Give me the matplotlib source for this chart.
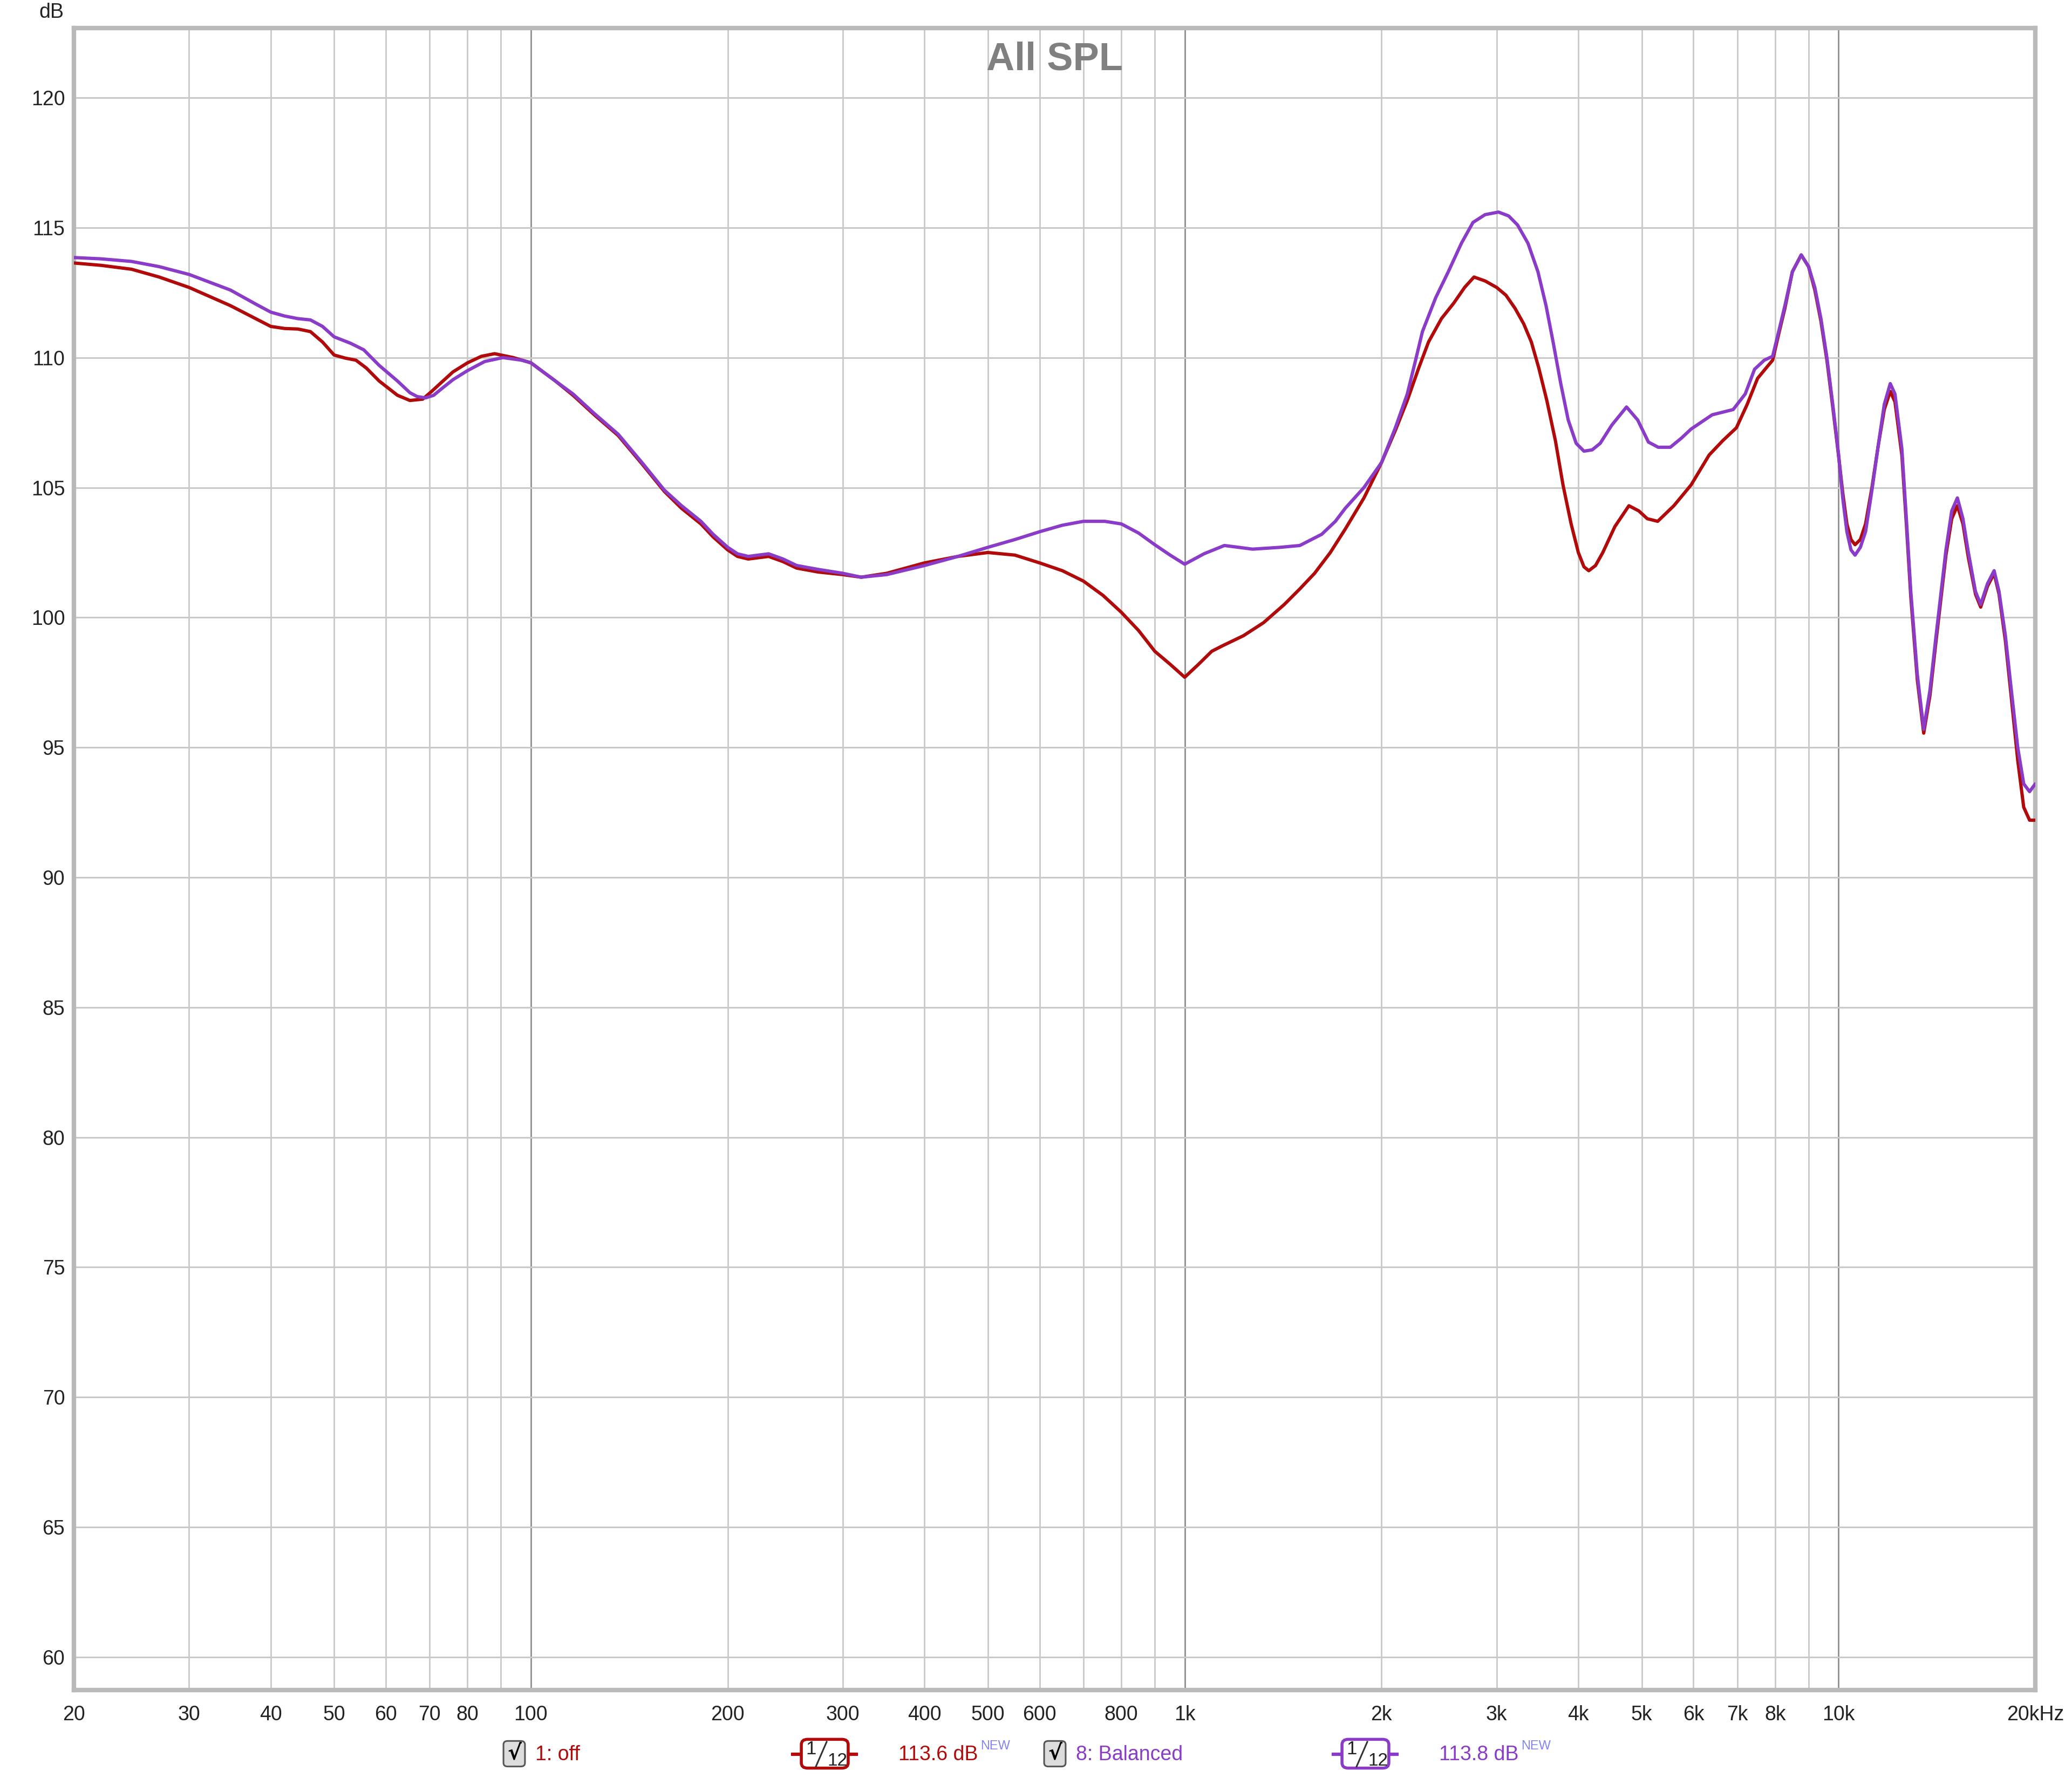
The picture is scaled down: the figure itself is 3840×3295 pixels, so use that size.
import matplotlib
matplotlib.use("Agg")
import matplotlib.pyplot as plt
from matplotlib.patches import FancyBboxPatch
from matplotlib.lines import Line2D
from matplotlib.ticker import FixedLocator, NullFormatter

plt.rcParams['font.family'] = ['Liberation Sans', 'DejaVu Sans']

# ---------------- data ----------------
red_freq = [20, 22, 24.5, 27, 30, 34.7, 40, 42, 44, 46, 48, 50, 52, 54, 56, 58.6, 62.5, 65.3,
            68.3, 70.5, 73, 76, 80, 84, 88, 94, 100, 109, 116, 125, 136, 148, 160, 170, 182,
            190, 200, 207, 215, 223, 231, 243, 255, 275, 300, 320, 350, 400, 450, 500, 550,
            600, 650, 700, 750, 800, 850, 900, 950, 1000, 1050, 1100, 1140, 1230, 1320, 1420,
            1500, 1580, 1670, 1760, 1880, 2000, 2100, 2190, 2280, 2360, 2470, 2580, 2680,
            2770, 2880, 3000, 3100, 3200, 3300, 3390, 3480, 3580, 3690, 3790, 3900, 4000,
            4080, 4150, 4250, 4360, 4550, 4780, 4950, 5100, 5290, 5600, 5950, 6340, 6650,
            6980, 7250, 7520, 7750, 7930, 8100, 8280, 8500, 8770, 9000, 9200, 9400, 9600,
            9800, 10000, 10150, 10300, 10450, 10600, 10800, 11000, 11250, 11500, 11750,
            12000, 12200, 12500, 12700, 12900, 13200, 13500, 13800, 14100, 14600, 14900,
            15200, 15500, 15800, 16200, 16500, 16900, 17300, 17600, 18000, 18400, 18800,
            19200, 19600, 20000]
red_db = [113.64, 113.55, 113.4, 113.1, 112.7, 112.0, 111.2, 111.12, 111.1, 111.0, 110.6,
          110.1, 109.98, 109.9, 109.6, 109.1, 108.55, 108.35, 108.4, 108.7, 109.05, 109.45,
          109.8, 110.05, 110.15, 110.0, 109.8, 109.1, 108.55, 107.8, 107.0, 105.9, 104.85,
          104.2, 103.6, 103.1, 102.6, 102.35, 102.25, 102.3, 102.35, 102.15, 101.9, 101.75,
          101.65, 101.55, 101.7, 102.1, 102.35, 102.5, 102.4, 102.1, 101.8, 101.4, 100.85,
          100.2, 99.5, 98.7, 98.2, 97.7, 98.2, 98.7, 98.9, 99.3, 99.8, 100.5, 101.1, 101.7,
          102.5, 103.4, 104.6, 105.96, 107.2, 108.35, 109.6, 110.6, 111.5, 112.1, 112.7,
          113.1, 112.95, 112.7, 112.4, 111.9, 111.3, 110.6, 109.6, 108.35, 106.8, 105.1,
          103.6, 102.5, 101.95, 101.8, 102.0, 102.5, 103.5, 104.3, 104.1, 103.8, 103.7,
          104.3, 105.1, 106.25, 106.8, 107.3, 108.2, 109.2, 109.6, 109.9, 110.9, 111.9,
          113.3, 113.95, 113.5, 112.6, 111.4, 109.9, 108.1, 106.25, 104.8, 103.6, 103.0,
          102.8, 103.0, 103.6, 105.0, 106.6, 108.0, 108.7, 108.3, 106.25, 103.6, 100.8,
          97.6, 95.55, 97.0, 99.1, 102.4, 103.8, 104.3, 103.6, 102.3, 100.9, 100.4, 101.2,
          101.7, 100.9, 99.1, 96.8, 94.5, 92.7, 92.2, 92.2]

pur_freq = [20, 22, 24.5, 27, 30, 34.7, 38, 40, 42, 44, 46, 48, 50, 53, 55.5, 58.6, 62.5,
            65.3, 67, 69, 71, 73, 76, 80, 85, 90.6, 96.8, 100, 109, 116, 125, 136, 148, 160,
            170, 182, 190, 200, 207, 215, 223, 231, 243, 255, 275, 300, 320, 350, 400, 450,
            500, 550, 600, 650, 700, 755, 800, 850, 900, 950, 1000, 1070, 1150, 1270, 1400,
            1500, 1620, 1700, 1760, 1880, 2000, 2100, 2190, 2250, 2310, 2420, 2530, 2650,
            2760, 2880, 3020, 3130, 3230, 3350, 3470, 3570, 3660, 3760, 3860, 3970, 4080,
            4200, 4320, 4500, 4740, 4930, 5120, 5300, 5530, 5750, 5950, 6410, 6900, 7200,
            7440, 7700, 7930, 8100, 8280, 8500, 8770, 9000, 9200, 9400, 9600, 9800, 10000,
            10150, 10300, 10450, 10600, 10800, 11000, 11250, 11500, 11750, 12000, 12200,
            12500, 12700, 12900, 13200, 13500, 13800, 14100, 14600, 14900, 15200, 15500,
            15800, 16200, 16500, 16900, 17300, 17600, 18000, 18400, 18800, 19200, 19600,
            20000]
pur_db = [113.85, 113.8, 113.7, 113.5, 113.2, 112.6, 112.05, 111.75, 111.6, 111.5, 111.45,
          111.2, 110.8, 110.55, 110.3, 109.7, 109.1, 108.65, 108.5, 108.45, 108.55, 108.8,
          109.15, 109.5, 109.85, 110.0, 109.9, 109.8, 109.1, 108.6, 107.85, 107.05, 105.95,
          104.9, 104.3, 103.7, 103.2, 102.7, 102.45, 102.35, 102.4, 102.45, 102.25, 102.0,
          101.85, 101.7, 101.55, 101.65, 102.0, 102.35, 102.7, 103.0, 103.3, 103.55, 103.7,
          103.7, 103.6, 103.25, 102.8, 102.4, 102.05, 102.45, 102.77, 102.63, 102.7, 102.77,
          103.2, 103.7, 104.2, 105.0, 105.96, 107.3, 108.6, 109.8, 111.0, 112.3, 113.3,
          114.4, 115.2, 115.5, 115.6, 115.45, 115.1, 114.4, 113.3, 112.0, 110.6, 109.0,
          107.6, 106.7, 106.4, 106.45, 106.7, 107.4, 108.1, 107.6, 106.75, 106.55, 106.55,
          106.9, 107.25, 107.8, 108.0, 108.6, 109.55, 109.9, 110.05, 111.0, 112.0, 113.3,
          113.95, 113.5, 112.7, 111.5, 110.0, 108.2, 106.3, 104.6, 103.3, 102.6, 102.4,
          102.7, 103.3, 104.9, 106.6, 108.2, 109.0, 108.6, 106.5, 103.8, 101.0, 97.8, 95.7,
          97.2, 99.3, 102.6, 104.1, 104.6, 103.8, 102.5, 101.0, 100.5, 101.3, 101.8, 101.0,
          99.3, 97.1, 95.0, 93.6, 93.3, 93.6]

x_ticks = [20, 30, 40, 50, 60, 70, 80, 100, 200, 300, 400, 500, 600, 800, 1000, 2000,
           3000, 4000, 5000, 6000, 7000, 8000, 10000, 20000]
x_labels = ["20", "30", "40", "50", "60", "70", "80", "100", "200", "300", "400", "500",
            "600", "800", "1k", "2k", "3k", "4k", "5k", "6k", "7k", "8k", "10k", "20kHz"]
y_ticks = [60, 65, 70, 75, 80, 85, 90, 95, 100, 105, 110, 115, 120]

title = "All SPL"
series_names = ["1: off", "8: Balanced"]
series_levels = ["113.6 dB", "113.8 dB"]

RED = "#b00a0a"
PURPLE = "#8a3cc8"

# ---------------- figure ----------------
W, H = 3840, 3295
fig = plt.figure(figsize=(W / 100, H / 100), dpi=100)
fig.patch.set_facecolor("white")


def fx(px):
    return px / W


def fy(py):
    return 1 - py / H


ax_l, ax_r, ax_t, ax_b = 137, 3772, 52, 3132
ax = fig.add_axes([fx(ax_l), fy(ax_b), fx(ax_r) - fx(ax_l), fy(ax_t) - fy(ax_b)])
ax.set_xscale("log")
ax.set_xlim(20, 20000)
ax.set_ylim(58.73, 122.68)

# grid
minor_grid = []
for dec in [10, 100, 1000, 10000]:
    for m in range(2, 10):
        v = dec * m
        if 20 <= v <= 20000:
            minor_grid.append(v)
for v in minor_grid:
    ax.axvline(v, color="#c9c9c9", lw=2.0, zorder=1)
for v in [100, 1000, 10000]:
    ax.axvline(v, color="#8e8e8e", lw=2.0, zorder=1)
for v in y_ticks:
    ax.axhline(v, color="#c9c9c9", lw=2.2, zorder=1)

ax.xaxis.set_major_locator(FixedLocator(x_ticks))
ax.set_xticklabels(x_labels)
ax.xaxis.set_minor_formatter(NullFormatter())
ax.set_yticks(y_ticks)
ax.set_yticklabels([str(v) for v in y_ticks])
ax.tick_params(axis="both", which="both", length=0, labelsize=27, colors="#222222")
ax.tick_params(axis="x", pad=20)
ax.tick_params(axis="y", pad=12)

for s in ax.spines.values():
    s.set_color("#b9b9b9")
    s.set_linewidth(6)

# curves
ax.plot(red_freq, red_db, color=RED, lw=4.4, zorder=3, solid_joinstyle="round",
        solid_capstyle="round")
ax.plot(pur_freq, pur_db, color=PURPLE, lw=4.4, zorder=4, solid_joinstyle="round",
        solid_capstyle="round")

# title and unit
fig.text(fx(1954), fy(130), title, ha="center", va="baseline", fontsize=52,
         fontweight="bold", color="#808080")
fig.text(fx(118), fy(33), "dB", ha="right", va="baseline", fontsize=27, color="#222222")

# ---------------- legend row ----------------
base_y = 3262
colors = [RED, PURPLE]
for i in range(2):
    off = 1002 * i
    c = colors[i]
    # checkbox
    cb = FancyBboxPatch((fx(935 + off), fy(3272)), fx(36), 44 / H,
                        boxstyle="round,pad=0.0005,rounding_size=0.002",
                        transform=fig.transFigure, facecolor="#dcdcdc",
                        edgecolor="#555555", lw=2.2)
    fig.add_artist(cb)
    fig.text(fx(953 + off), fy(3250), "\u221a", ha="center", va="center",
             fontsize=28, color="black", family=["DejaVu Sans"], fontweight="bold")
    fig.text(fx(992 + off), fy(base_y), series_names[i], ha="left", va="baseline",
             fontsize=27, color=c)
    # filter badge
    fig.add_artist(Line2D([fx(1469 + off), fx(1587 + off)], [fy(3251), fy(3251)],
                          transform=fig.transFigure, color=c, lw=4.5, zorder=1))
    bd = FancyBboxPatch((fx(1487 + off), fy(3275)), fx(83), 50 / H,
                        boxstyle="round,pad=0.0005,rounding_size=0.003",
                        transform=fig.transFigure, facecolor="white",
                        edgecolor=c, lw=4.0, zorder=2)
    fig.add_artist(bd)
    fig.text(fx(1503 + off), fy(3251), "1", ha="center", va="baseline",
             fontsize=25, color="#222222", zorder=3)
    fig.add_artist(Line2D([fx(1512 + off), fx(1532 + off)], [fy(3274), fy(3228)],
                          transform=fig.transFigure, color="#333333", lw=2.2, zorder=3))
    fig.text(fx(1552 + off), fy(3272), "12", ha="center", va="baseline",
             fontsize=24, color="#222222", zorder=3)
    # level text
    fig.text(fx(1665 + off), fy(base_y), series_levels[i], ha="left", va="baseline",
             fontsize=27, color=c)
    fig.text(fx(1817 + off), fy(3242), "NEW", ha="left", va="baseline",
             fontsize=17, color="#8484f4")

fig.savefig("out.png", dpi=100, facecolor="white")
